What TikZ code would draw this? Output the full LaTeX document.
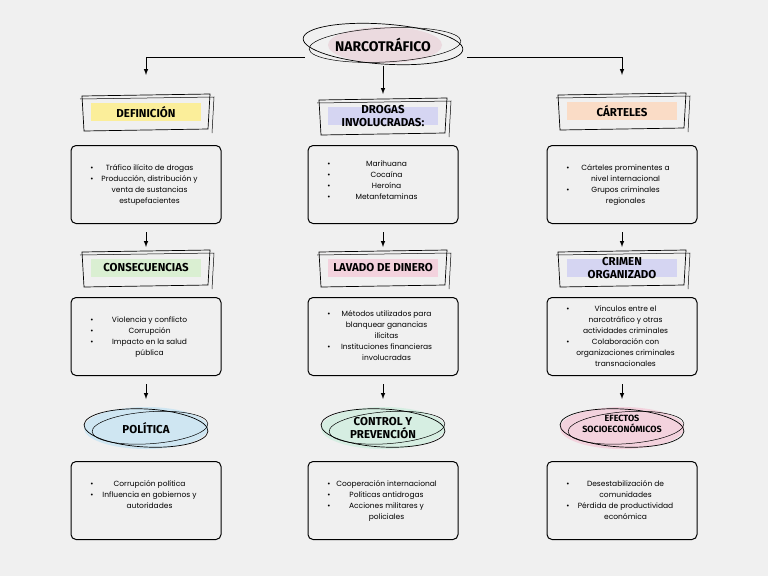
\documentclass[tikz,border=0pt]{standalone}
\usepackage{fontspec}
\usepackage{array}
\setmainfont{Poppins}
\newfontfamily\headfont{Fira Sans}
\usetikzlibrary{positioning,shapes.geometric}
\definecolor{bgcol}{HTML}{F0F0F0}
\definecolor{hlyellow}{HTML}{FBEE9A}
\definecolor{hllav}{HTML}{D5D5F2}
\definecolor{hlpeach}{HTML}{FADCC6}
\definecolor{hlgreen}{HTML}{DAEFD2}
\definecolor{hlblue}{HTML}{CFE6F2}
\definecolor{hlteal}{HTML}{D6EEE2}
\definecolor{hlpink}{HTML}{F3D2DD}
\definecolor{hlrose}{HTML}{EBDADF}
\tikzset{
  infobox/.style={draw, line width=1pt, rounded corners=5pt, minimum width=150pt,
    minimum height=78pt, anchor=north, font=\fontsize{7.5}{11}\selectfont, inner sep=4pt},
  headtxt/.style={font=\headfont\bfseries\fontsize{11.5}{12.5}\selectfont, align=center},
  sketch/.style={draw, line width=0.7pt},
  link/.style={draw, line width=1pt, -latex},
}
\newcommand{\items}[1]{\begin{tabular}{@{}l@{\hspace{4pt}}>{\centering\arraybackslash}p{104pt}@{}}#1\end{tabular}}
\newcommand{\boxhead}[4]{% name, x, y, colour
  \fill[#4] (#2-55,#3-9) rectangle (#2+55,#3+9);
  \draw[sketch] (#2-64,#3-16) -- (#2+64,#3-18) -- (#2+62,#3+17) -- (#2-62,#3+19) -- cycle;
  \draw[sketch, line width=0.5pt] (#2-66,#3-13) -- (#2+68,#3-15) -- (#2+66,#3+21);
}
\newcommand{\ovalhead}[4]{% name, x, y, colour
  \fill[#4] (#2,#3) ellipse (62pt and 21pt);
  \draw[sketch, rotate around={-3:(#2,#3)}] (#2,#3) ellipse (62pt and 19pt);
  \draw[sketch, line width=0.5pt, rotate around={4:(#2,#3)}] (#2+4,#3) ellipse (58pt and 16pt);
}
\begin{document}
\begin{tikzpicture}[x=1pt, y=-1pt]
\fill[bgcol] (0,0) rectangle (768,576);
\useasboundingbox (0,0) rectangle (768,576);

% main title
\fill[hlrose] (385,45) ellipse (57pt and 18pt);
\draw[sketch, rotate around={-4:(383,44)}] (383,44) ellipse (80pt and 20pt);
\draw[sketch, line width=0.5pt, rotate around={3:(385,45)}] (385,45) ellipse (76pt and 17pt);
\node[headtxt, font=\headfont\bfseries\fontsize{14}{15}\selectfont] (root) at (383,45) {NARCOTRÁFICO};

% column heads
\boxhead{}{146}{112}{hlyellow}
\node[headtxt] (def) at (146,112) {DEFINICIÓN};
\boxhead{}{383}{116}{hllav}
\node[headtxt] (drog) at (383,116) {DROGAS\\INVOLUCRADAS:};
\boxhead{}{622}{111}{hlpeach}
\node[headtxt] (cart) at (622,111) {CÁRTELES};

\boxhead{}{146}{268}{hlgreen}
\node[headtxt] (cons) at (146,268) {CONSECUENCIAS};
\boxhead{}{383}{268}{hlpink}
\node[headtxt] (lav) at (383,268) {LAVADO DE DINERO};
\boxhead{}{622}{268}{hllav}
\node[headtxt] (crim) at (622,268) {CRIMEN\\ORGANIZADO};

\ovalhead{}{146}{428}{hlblue}
\node[headtxt] (pol) at (146,428) {POLÍTICA};
\ovalhead{}{383}{428}{hlteal}
\node[headtxt] (ctrl) at (383,428) {CONTROL Y\\PREVENCIÓN};
\ovalhead{}{622}{428}{hlpink}
\node[headtxt, font=\headfont\bfseries\fontsize{9}{10.5}\selectfont] (efec) at (622,424) {EFECTOS\\SOCIOECONÓMICOS};

% info boxes
\node[infobox] (bdef) at (146,145) {\items{\textbullet & Tráfico ilícito de drogas\\
  \textbullet & Producción, distribución y venta de sustancias estupefacientes\\[8pt]}};
\node[infobox] (bdrog) at (383,145) {\items{\textbullet & Marihuana\\
  \textbullet & Cocaína\\ \textbullet & Heroína\\ \textbullet & Metanfetaminas\\[8pt]}};
\node[infobox] (bcart) at (622,145) {\items{\textbullet & Cárteles prominentes a nivel internacional\\
  \textbullet & Grupos criminales regionales\\[8pt]}};

\node[infobox] (bcons) at (146,297) {\items{\textbullet & Violencia y conflicto\\
  \textbullet & Corrupción\\ \textbullet & Impacto en la salud pública\\[8pt]}};
\node[infobox] (blav) at (383,297) {\items{\textbullet & Métodos utilizados para blanquear ganancias ilícitas\\
  \textbullet & Instituciones financieras involucradas\\}};
\node[infobox] (bcrim) at (622,297) {\items{\textbullet & Vínculos entre el narcotráfico y otras actividades criminales\\
  \textbullet & Colaboración con organizaciones criminales transnacionales}};

\node[infobox] (bpol) at (146,461) {\items{\textbullet & Corrupción política\\
  \textbullet & Influencia en gobiernos y autoridades\\[22pt]}};
\node[infobox] (bctrl) at (383,461) {\items{\textbullet & Cooperación internacional\\
  \textbullet & Políticas antidrogas\\ \textbullet & Acciones militares y policiales\\[8pt]}};
\node[infobox] (befec) at (622,461) {\items{\textbullet & Desestabilización de comunidades\\
  \textbullet & Pérdida de productividad económica\\[8pt]}};

% connectors
\coordinate (rl) at (305,57);
\coordinate (rr) at (467,57);
\draw[link] (rl) -| (146,75);
\draw[link] (rr) -| (622,75);
\draw[link] (root.south) ++(0,11) -- (383,94);
\foreach \a/\b in {bdef/cons, bdrog/lav, bcart/crim} {
  \draw[link] (\a.south) ++(0,8) -- ++(0,15);
}
\foreach \a/\b in {bcons/pol, blav/ctrl, bcrim/efec} {
  \draw[link] (\a.south) ++(0,8) -- ++(0,15);
}
\end{tikzpicture}
\end{document}
